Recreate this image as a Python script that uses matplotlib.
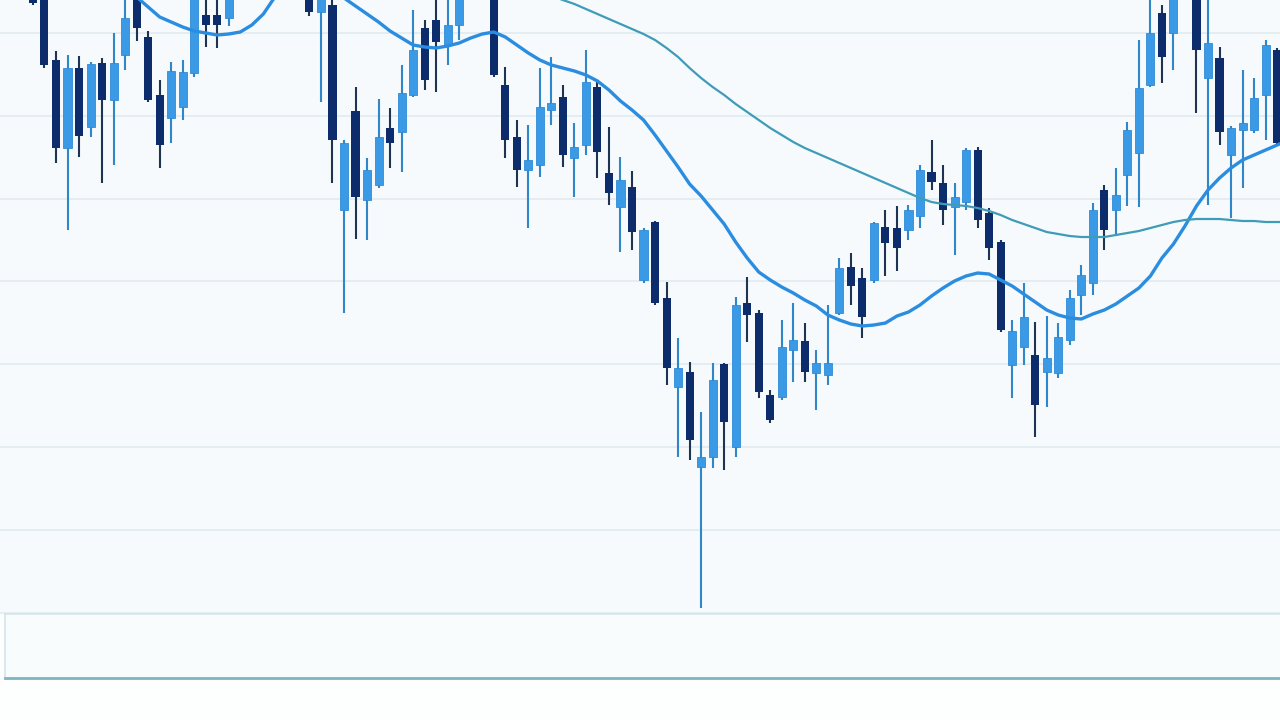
import numpy as np
import matplotlib.pyplot as plt

# daily candles (missing days are off the top of the view)
days = [0, 1, 2, 3, 4, 5, 6, 7, 8, 9, 10, 11, 12, 13, 14, 15, 16, 17,
        24, 25, 26, 27, 28, 29, 30, 31, 32, 33, 34, 35, 36, 37,
        40, 41, 42, 43, 44, 45, 46, 47, 48, 49, 50, 51, 52, 53, 54, 55, 56, 57, 58, 59,
        60, 61, 62, 63, 64, 65, 66, 67, 68, 69, 70, 71, 72, 73, 74, 75, 76, 77, 78, 79,
        80, 81, 82, 83, 84, 85, 86, 87, 88, 89, 90, 91, 92, 93, 94, 95, 96, 97, 98, 99,
        101, 102, 103, 104, 105, 106, 107, 108]
opens = [82.0, 81.0, 74.0, 65.2, 73.2, 67.3, 73.7, 70.0, 74.5, 80.5, 76.3, 70.5, 68.2, 69.3, 72.7, 78.5, 78.5, 78.2,
         81.0, 78.8, 79.5, 59.0, 68.9, 60.0, 61.5, 67.2, 66.8, 70.5, 77.2, 78.0, 75.5, 77.5,
         81.0, 71.5, 66.3, 63.0, 63.5, 69.0, 70.3, 64.2, 65.5, 71.3, 62.7, 59.3, 61.3, 52.0, 57.8, 50.2, 41.3, 42.8, 33.3, 34.3,
         43.6, 35.3, 49.7, 48.7, 40.5, 40.3, 45.0, 45.9, 42.7, 42.5, 48.7, 53.3, 52.2, 52.0, 57.3, 57.2, 57.0, 58.4, 62.8, 61.7,
         59.3, 59.8, 65.0, 58.7, 55.8, 43.5, 45.3, 44.5, 42.8, 42.7, 46.0, 50.5, 51.7, 61.0, 59.0, 62.5, 64.7, 71.5, 78.7, 76.7,
         80.5, 72.2, 74.2, 64.5, 67.0, 67.0, 70.5, 75.0]
highs = [83.0, 82.0, 74.9, 74.5, 74.4, 73.8, 74.2, 76.7, 80.0, 81.5, 76.9, 72.0, 73.8, 74.0, 81.0, 80.5, 80.5, 82.0,
         82.0, 82.0, 80.0, 66.0, 71.3, 64.2, 70.1, 69.2, 73.5, 79.0, 78.0, 80.0, 80.0, 81.0,
         82.0, 73.3, 68.0, 67.5, 73.2, 74.3, 71.5, 67.7, 75.0, 72.0, 67.3, 64.3, 62.9, 57.2, 57.9, 51.8, 46.2, 43.8, 38.8, 43.7,
         43.7, 50.3, 52.3, 49.0, 41.0, 48.0, 49.7, 47.7, 45.0, 49.5, 54.2, 54.7, 53.2, 57.8, 59.0, 59.4, 59.5, 63.5, 66.0, 63.5,
         61.7, 65.2, 65.3, 59.2, 56.0, 48.0, 51.7, 47.8, 48.4, 47.7, 51.0, 53.5, 59.7, 61.5, 63.2, 67.8, 76.0, 80.0, 79.5, 81.0,
         81.0, 81.0, 75.3, 67.4, 73.0, 72.2, 76.0, 75.2]
lows = [79.5, 73.2, 63.7, 57.0, 64.3, 66.3, 61.7, 63.5, 73.0, 75.9, 69.8, 63.2, 65.7, 68.0, 72.3, 75.3, 75.2, 77.4,
        78.4, 69.8, 61.7, 48.7, 56.1, 56.0, 61.2, 63.2, 62.8, 70.3, 71.0, 70.8, 73.5, 76.0,
        72.3, 64.2, 61.3, 57.2, 62.3, 67.5, 63.3, 60.3, 64.5, 62.2, 59.5, 54.8, 55.0, 51.7, 49.5, 41.5, 34.3, 34.0, 19.2, 33.2,
        33.0, 34.3, 45.8, 40.2, 37.7, 40.0, 41.8, 41.8, 39.0, 41.5, 48.5, 49.5, 46.2, 51.7, 52.4, 52.9, 56.0, 57.2, 61.0, 57.5,
        54.5, 59.0, 57.2, 54.0, 46.8, 40.2, 43.5, 36.3, 39.3, 42.2, 45.5, 48.5, 50.5, 55.0, 56.4, 59.4, 59.3, 71.3, 71.7, 73.0,
        68.7, 59.5, 65.5, 58.2, 61.2, 66.7, 66.0, 65.5]
closes = [79.7, 73.5, 65.2, 73.2, 66.4, 73.6, 70.0, 73.7, 78.2, 77.2, 70.0, 65.5, 72.9, 72.8, 80.5, 77.5, 77.5, 81.0,
          78.8, 81.0, 66.0, 65.7, 60.3, 63.0, 66.3, 65.7, 70.7, 75.0, 72.0, 75.8, 77.5, 80.5,
          72.5, 66.0, 63.0, 64.0, 69.3, 69.7, 64.5, 65.3, 71.8, 64.8, 60.7, 62.0, 56.8, 57.0, 49.7, 43.2, 43.2, 36.0, 34.3, 42.0,
          37.8, 49.5, 48.5, 40.8, 38.0, 45.3, 46.0, 42.8, 43.7, 43.7, 53.2, 51.4, 48.3, 57.7, 55.7, 55.2, 59.0, 63.0, 61.8, 59.0,
          60.3, 65.0, 58.0, 55.2, 47.0, 46.9, 48.3, 39.5, 44.2, 46.3, 50.2, 52.5, 59.0, 57.0, 60.5, 67.0, 71.2, 76.7, 74.3, 80.5,
          75.0, 75.7, 66.8, 67.2, 67.7, 70.2, 75.5, 65.7]

# moving averages, one value per day
ma_fast = [81.2, 80.3, 79.3, 78.3, 77.8, 77.3, 76.9, 76.7, 76.5, 76.6, 76.8, 77.5, 78.6, 80.3, 81.5, 82.0, 82.0,
           81.5, 80.8, 80.2, 79.4, 78.6, 77.8, 76.9, 76.2, 75.5, 75.3, 75.2, 75.4, 75.7, 76.2, 76.6, 76.8,
           76.3, 75.5, 74.7, 74.0, 73.5, 73.2, 72.9, 72.5, 71.9, 71.0, 69.9, 69.0, 68.0, 66.5, 64.9, 63.3,
           61.6, 60.4, 59.0, 57.6, 55.8, 54.2, 52.8, 52.0, 51.3, 50.7, 50.0, 49.4, 48.5, 48.0, 47.6, 47.4,
           47.5, 47.7, 48.4, 48.8, 49.5, 50.4, 51.2, 51.9, 52.4, 52.7, 52.6, 52.0, 51.4, 50.6, 49.8, 49.0,
           48.5, 48.2, 48.1, 48.6, 49.0, 49.6, 50.4, 51.2, 52.4, 54.2, 55.6, 57.4, 59.4, 61.0, 62.2, 63.2,
           64.0, 64.5, 65.0, 65.5, 66.0]
ma_fast_start = 8
ma_slow = [80.4, 80.0, 79.6, 79.1, 78.6, 78.1, 77.6, 77.1, 76.6, 76.0, 75.2, 74.3, 73.2, 72.2, 71.3,
           70.5, 69.6, 68.8, 68.0, 67.2, 66.5, 65.8, 65.2, 64.7, 64.2, 63.7, 63.2, 62.7, 62.2, 61.7,
           61.2, 60.7, 60.2, 59.8, 59.6, 59.5, 59.4, 59.2, 58.9, 58.5, 58.0, 57.6, 57.2, 56.8, 56.6,
           56.4, 56.3, 56.3, 56.3, 56.5, 56.7, 56.9, 57.2, 57.5, 57.8, 58.0, 58.1, 58.1, 58.1, 58.0,
           57.9, 57.9, 57.8, 57.8, 57.8]
ma_slow_start = 45

dark = '#0c2c6b'
light = '#3a9ae6'

fig = plt.figure(figsize=(12.8, 7.2), dpi=100, facecolor='#fdfefe')
ax = fig.add_axes([0, 0.1472, 1, 0.8528])
ax.set_facecolor('#f6fafc')

d = np.array(days)
o = np.array(opens)
c = np.array(closes)
h = np.array(highs)
l = np.array(lows)
down = c < o

ax.vlines(d[down], l[down], h[down], color='#1f3352', lw=1.5, zorder=3)
ax.vlines(d[~down], l[~down], h[~down], color='#2f86c8', lw=1.5, zorder=3)
ax.bar(d[down], (o - c)[down], bottom=c[down], width=0.7, color=dark, zorder=4)
ax.bar(d[~down], (c - o)[~down], bottom=o[~down], width=0.7, color=light,
       edgecolor='#2f8ad6', linewidth=0.6, zorder=4)

ax.plot(np.arange(ma_fast_start, ma_fast_start + len(ma_fast)), ma_fast,
        color='#2b8de0', lw=2.4, zorder=5, solid_capstyle='round', solid_joinstyle='round')
ax.plot(np.arange(ma_slow_start, ma_slow_start + len(ma_slow)), ma_slow,
        color='#3f9cb8', lw=1.6, zorder=5, solid_capstyle='round', solid_joinstyle='round')

ax.set_xlim(-2.86, 108.25)
ax.set_ylim(18.6, 80)
ax.set_yticks(76.7 - 8.28 * np.arange(8))
ax.grid(axis='y', color='#e3ecf1', lw=1.3)
ax.set_axisbelow(True)
ax.tick_params(left=False, bottom=False, labelleft=False, labelbottom=False)
for s in ax.spines.values():
    s.set_visible(False)

# empty lower panel
ax2 = fig.add_axes([0.0039, 0.0583, 0.9961, 0.0889])
ax2.set_facecolor('#f8fcfd')
ax2.set_xticks([])
ax2.set_yticks([])
for s in ax2.spines.values():
    s.set_color('#d6e4ea')
    s.set_linewidth(1.2)
ax2.spines['bottom'].set_color('#7db5bf')
ax2.spines['bottom'].set_linewidth(2)
ax2.spines['right'].set_visible(False)

fig.savefig('out.png', dpi=100, facecolor=fig.get_facecolor())
